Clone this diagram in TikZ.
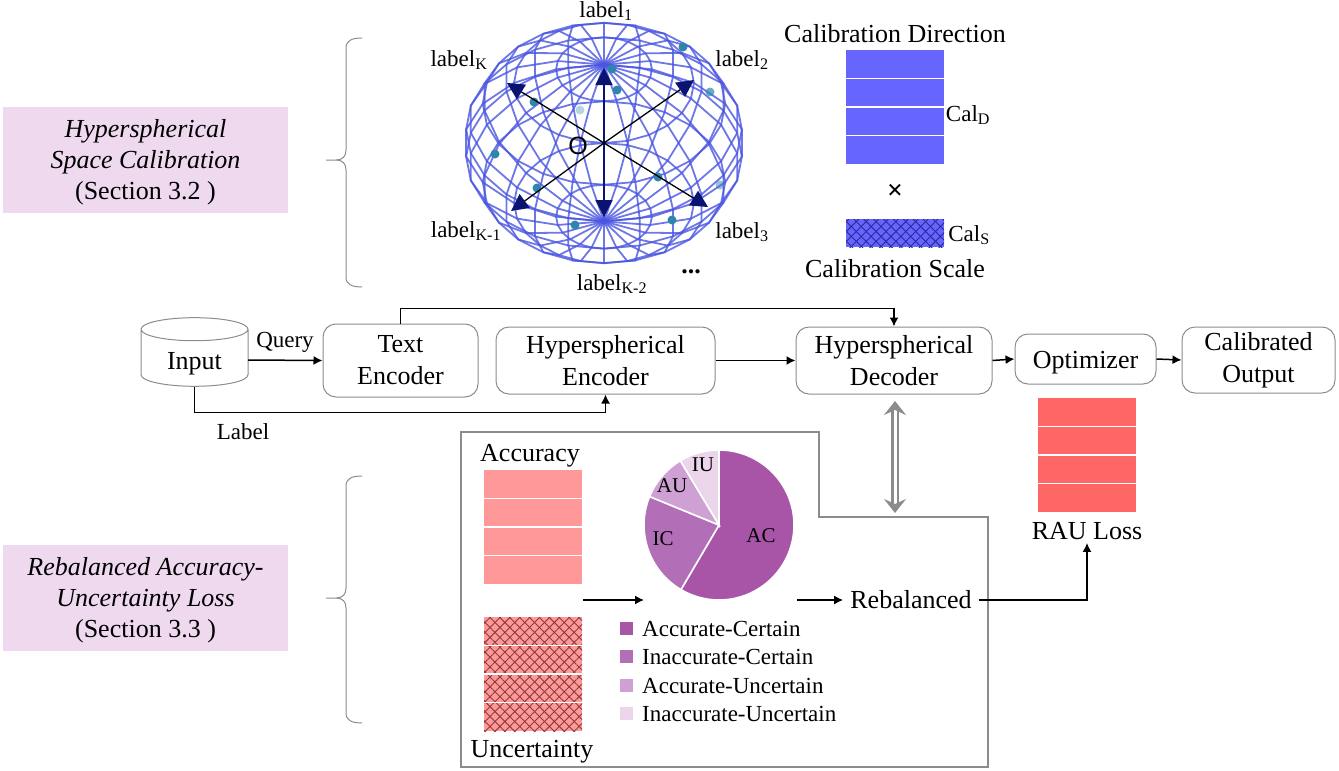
\documentclass[tikz,border=0pt]{standalone}
\usepackage{fontspec}
\setmainfont{Liberation Serif}
\newfontfamily\originfont{Liberation Sans}
\usetikzlibrary{arrows.meta,calc,patterns.meta,shapes.geometric}
\definecolor{sidepink}{HTML}{EFD9EF}
\definecolor{wireblue}{HTML}{4A55E0}
\definecolor{tipblue}{HTML}{0A1470}
\definecolor{calblue}{HTML}{6666FF}
\definecolor{calhatch}{HTML}{2A2A9A}
\definecolor{accpink}{HTML}{FF9999}
\definecolor{acchatch}{HTML}{8C3B3B}
\definecolor{raured}{HTML}{FF6666}
\definecolor{boxgray}{HTML}{8C8C8C}
\definecolor{dotteal}{HTML}{2E86AB}
\tikzset{
  block/.style={draw=boxgray, line width=1pt, rounded corners=13pt, align=center, font=\fontsize{26}{32}\selectfont, inner sep=0pt},
  side/.style={align=center, font=\fontsize{26}{31}\selectfont, inner sep=0pt},
  txt/.style={font=\fontsize{26}{30}\selectfont, inner sep=0pt},
  small/.style={font=\fontsize{23}{27}\selectfont, inner sep=0pt},
  pietxt/.style={font=\fontsize{21}{25}\selectfont, inner sep=0pt},
  flow/.style={draw=black, line width=1.5pt, -{Latex[length=9pt,width=9pt]}},
  ray/.style={line width=1.3pt, -{Triangle[length=17pt,width=17pt,color=tipblue]}},
  wire/.style={draw=wireblue, line width=1.8pt, opacity=.8},
  curly/.style={draw=boxgray, line width=1pt},
  cross/.style={pattern={Lines[angle=#1,distance=7pt,line width=.9pt]}},
}
\newcommand{\barstack}[5]{% x, y, fill colour, hatch colour (or none), name
  \fill[#3] (#1,#2) rectangle ++(98,114);
  \ifx#4n\else
    \fill[cross=45,pattern color=#4] (#1,#2) rectangle ++(98,114);
    \fill[cross=-45,pattern color=#4] (#1,#2) rectangle ++(98,114);
  \fi
  \foreach \i in {1,2,3} \draw[white, line width=1.4pt] (#1,#2+\i*28.5) -- ++(98,0);
  \coordinate (#5) at (#1+49,#2+57);
}
\newcommand{\curlybrace}[3]{% top, middle, bottom
  \draw[curly] (362,#1) .. controls (351,#1) and (346,#1+3) .. (346,#1+10) -- (346,#2-10)
    .. controls (346,#2-4) and (343,#2) .. (336,#2) -- (326,#2) -- (336,#2) .. controls (343,#2) and (346,#2+4) .. (346,#2+10)
    -- (346,#3-10) .. controls (346,#3-3) and (351,#3) .. (362,#3);
}
\begin{document}
\begin{tikzpicture}[x=1pt,y=-1pt]
  \useasboundingbox (0,0) rectangle (1339,771);
  % side labels
  \fill[sidepink] (3,107) rectangle (288,213);
  \fill[sidepink] (3,545) rectangle (288,651);
  \node[side] (space) at (145.5,162) {\textit{Hyperspherical}\\\textit{Space Calibration}\\(Section 3.2 )};
  \node[side] (loss) at (145.5,600) {\textit{Rebalanced Accuracy-}\\\textit{Uncertainty Loss}\\(Section 3.3 )};
  % braces
  \curlybrace{38}{160}{287}
  \curlybrace{476}{598}{723}
  % sphere
  \foreach \lon in {0,15,...,345}
    \draw[wire] plot[domain=-90:90,samples=10]
      ({604+140*cos(\x)*sin(\lon)},{143-122*(sin(\x)*cos(50)-cos(\x)*cos(\lon)*sin(50))});
  \foreach \lat in {-70,-50,...,70}
    \draw[wire] plot[domain=0:360,samples=25]
      ({604+140*cos(\lat)*sin(\x)},{143-122*(sin(\lat)*cos(50)-cos(\lat)*cos(\x)*sin(50))});
  \foreach \px/\py/\op in {683/47/1,612/69/1,617/90/1,710/92/.7,534/102/1,580/110/.35,495/154/1,658/177/1,720/185/.5,537/188/1,575/225/1,672/220/1}
    \fill[fill=dotteal, opacity=\op] (\px,\py) circle (4.5);
  \coordinate (O) at (604,143);
  \coordinate (up) at (604,68);
  \coordinate (dn) at (604,217);
  \coordinate (nw) at (507,83);
  \coordinate (ne) at (694,80);
  \coordinate (sw) at (511,211);
  \coordinate (se) at (708,207);
  \draw[ray, draw=tipblue] (O) -- (up);
  \draw[ray, draw=tipblue] (O) -- (dn);
  \foreach \e in {nw,ne,sw,se} \draw[ray] (O) -- (\e);
  \node[inner sep=0pt, font=\originfont\fontsize{25}{25}\selectfont] (origin) at (578,146) {O};
  \node[small] (l1) at (606,11) {label\textsubscript{1}};
  \node[small] (lK) at (459,60) {label\textsubscript{K}};
  \node[small] (l2) at (742,60) {label\textsubscript{2}};
  \node[small] (lK1) at (466,231) {label\textsubscript{K-1}};
  \node[small] (l3) at (742,232) {label\textsubscript{3}};
  \node[small] (lK2) at (612,284) {label\textsubscript{K-2}};
  \node[txt, font=\bfseries\fontsize{26}{30}\selectfont] (dots) at (691,272) {...};
  % calibration
  \node[txt] (caldir) at (895,34) {Calibration Direction};
  \barstack{846}{50}{calblue}{n}{cald}
  \node[small] (cald label) at (968,115) {Cal\textsubscript{D}};
  \node[txt, font=\bfseries\fontsize{28}{30}\selectfont] (times) at (895,192) {×};
  \fill[calblue] (846,219) rectangle (944,247);
  \fill[cross=45,pattern color=calhatch] (846,219) rectangle (944,247);
  \fill[cross=-45,pattern color=calhatch] (846,219) rectangle (944,247);
  \node[small] (cals label) at (969,235) {Cal\textsubscript{S}};
  \node[txt] (calscale) at (895,269) {Calibration Scale};
  % main row
  \node[cylinder, shape border rotate=90, aspect=.42, draw=boxgray, line width=1pt, minimum width=107pt, minimum height=63pt, inner sep=0pt, text height=28pt, font=\fontsize{26}{30}\selectfont] (input) at (194.5,358) {Input};
  \node[block, minimum width=155pt, minimum height=73pt] (text) at (400.5,360.5) {Text\\Encoder};
  \node[block, minimum width=219pt, minimum height=67pt] (henc) at (605.5,360.5) {Hyperspherical\\Encoder};
  \node[block, minimum width=196pt, minimum height=67pt] (hdec) at (894,360.5) {Hyperspherical\\Decoder};
  \node[block, minimum width=141pt, minimum height=50pt, text height=24pt] (opt) at (1085.5,359) {Optimizer};
  \node[block, minimum width=153pt, minimum height=66pt] (out) at (1258.5,360) {Calibrated\\Output};
  \coordinate (input out) at (248,360);
  \draw[flow] (input out) -- (text.west);
  \node[small] (query) at (285,342) {Query};
  \draw[flow] (text.north) |- ($(hdec.north)+(0,-18)$) -- (hdec.north);
  \draw[flow] (input.south) |- ($(henc.south)+(0,18)$) -- (henc.south);
  \node[small] (label) at (243,432) {Label};
  \draw[flow] (henc.east) -- (hdec.west);
  \draw[flow] (hdec.east) -- (opt.west);
  \draw[flow] (opt.east) -- (out.west);
  \draw[boxgray, line width=2.4pt, double, double distance=3pt, {Stealth[length=14pt,width=22pt,inset=5pt]}-{Stealth[length=14pt,width=22pt,inset=5pt]}] (895,401) -- (895,513);
  \barstack{1038}{398}{raured}{n}{raubars}
  \node[txt, inner ysep=3pt] (rau) at (1087,531) {RAU Loss};
  % lower panel
  \draw[draw=boxgray, line width=1.2pt] (461,432) -- (819,432) -- (819,517) -- (988,517) -- (988,767) -- (461,767) -- cycle;
  \node[txt] (acc) at (530,456) {Accuracy};
  \barstack{484}{470}{accpink}{n}{accbars}
  \barstack{484}{617}{accpink}{acchatch}{uncbars}
  \node[txt] (unc) at (532,752) {Uncertainty};
  \foreach \a/\b/\c in {90/-120.5/A855A8,-120.5/-202.3/B26EB6,-202.3/-239/CFA0D4,-239/-270/EAD5EA}{
    \definecolor{slice}{HTML}{\c}
    \draw[fill=slice, draw=white, line width=1.6pt] (719,525) -- ($(719,525)+({75*cos(\a)},{-75*sin(\a)})$) arc[start angle=-\a, end angle=-\b, radius=75] -- cycle;
  }
  \node[pietxt] (ac) at (761,536) {AC};
  \node[pietxt] (ic) at (663,539) {IC};
  \node[pietxt] (au) at (672,486) {AU};
  \node[pietxt] (iu) at (703,465) {IU};
  \foreach \y/\c/\t in {629/A855A8/Accurate-Certain,657/B26EB6/Inaccurate-Certain,686/CFA0D4/Accurate-Uncertain,714/EAD5EA/Inaccurate-Uncertain}{
    \definecolor{slice}{HTML}{\c}
    \fill[slice] (620,\y-7) rectangle ++(13,13);
    \node[small, anchor=west] at (642,\y) {\t};
  }
  \coordinate (pie in) at (583,600);
  \coordinate (pie to) at (644,600);
  \coordinate (pie out) at (797,600);
  \node[txt, inner xsep=7pt] (reb) at (911,600) {Rebalanced};
  \draw[flow] (pie in) -- (pie to);
  \draw[flow] (pie out) -- (reb.west);
  \draw[flow] (reb.east) -| (rau.south);
\end{tikzpicture}
\end{document}
